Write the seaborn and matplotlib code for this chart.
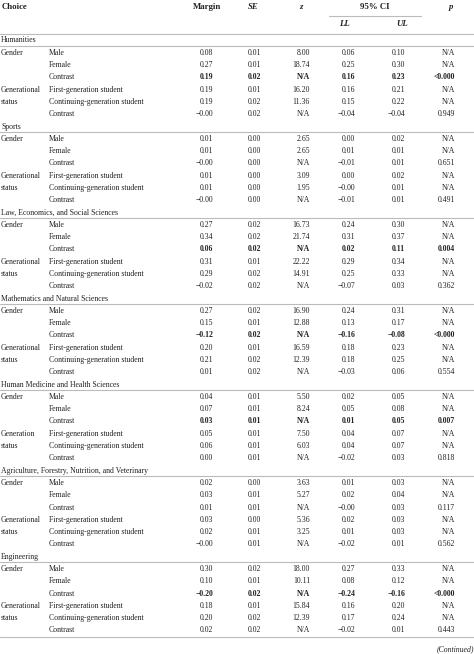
import matplotlib
matplotlib.use("Agg")
import matplotlib.pyplot as plt
import seaborn as sns

sns.set_theme(style="white")
plt.rcParams['font.family'] = ['Liberation Serif', 'DejaVu Serif']

sections = ["Humanities", "Sports", "Law, Economics, and Social Sciences",
            "Mathematics and Natural Sciences", "Human Medicine and Health Sciences",
            "Agriculture, Forestry, Nutrition, and Veterinary", "Engineering"]
subs = ["Male", "Female", "Contrast", "First-generation student",
        "Continuing-generation student", "Contrast"]
margin = [["0.08","0.27","0.19","0.19","0.19","\u22120.00"],
          ["0.01","0.01","\u22120.00","0.01","0.01","\u22120.00"],
          ["0.27","0.34","0.06","0.31","0.29","\u22120.02"],
          ["0.27","0.15","\u22120.12","0.20","0.21","0.01"],
          ["0.04","0.07","0.03","0.05","0.06","0.00"],
          ["0.02","0.03","0.01","0.03","0.02","\u22120.00"],
          ["0.30","0.10","\u22120.20","0.18","0.20","0.02"]]
se = [["0.01","0.01","0.02","0.01","0.02","0.02"],
      ["0.00","0.00","0.00","0.00","0.00","0.00"],
      ["0.02","0.02","0.02","0.01","0.02","0.02"],
      ["0.02","0.01","0.02","0.01","0.02","0.02"],
      ["0.01","0.01","0.01","0.01","0.01","0.01"],
      ["0.00","0.01","0.01","0.00","0.01","0.01"],
      ["0.02","0.01","0.02","0.01","0.02","0.02"]]
zval = [["8.00","18.74","N/A","16.20","11.36","N/A"],
        ["2.65","2.65","N/A","3.09","1.95","N/A"],
        ["16.73","21.74","N/A","22.22","14.91","N/A"],
        ["16.90","12.88","N/A","16.59","12.39","N/A"],
        ["5.50","8.24","N/A","7.50","6.03","N/A"],
        ["3.63","5.27","N/A","5.36","3.25","N/A"],
        ["18.00","10.11","N/A","15.84","12.39","N/A"]]
ll = [["0.06","0.25","0.16","0.16","0.15","\u22120.04"],
      ["0.00","0.01","\u22120.01","0.00","\u22120.00","\u22120.01"],
      ["0.24","0.31","0.02","0.29","0.25","\u22120.07"],
      ["0.24","0.13","\u22120.16","0.18","0.18","\u22120.03"],
      ["0.02","0.05","0.01","0.04","0.04","\u22120.02"],
      ["0.01","0.02","\u22120.00","0.02","0.01","\u22120.02"],
      ["0.27","0.08","\u22120.24","0.16","0.17","\u22120.02"]]
ul = [["0.10","0.30","0.23","0.21","0.22","\u22120.04"],
      ["0.02","0.01","0.01","0.02","0.01","0.01"],
      ["0.30","0.37","0.11","0.34","0.33","0.03"],
      ["0.31","0.17","\u22120.08","0.23","0.25","0.06"],
      ["0.05","0.08","0.05","0.07","0.07","0.03"],
      ["0.03","0.04","0.03","0.03","0.03","0.01"],
      ["0.33","0.12","\u22120.16","0.20","0.24","0.01"]]
pval = [["N/A","N/A","<0.000","N/A","N/A","0.949"],
        ["N/A","N/A","0.651","N/A","N/A","0.491"],
        ["N/A","N/A","0.004","N/A","N/A","0.362"],
        ["N/A","N/A","<0.000","N/A","N/A","0.554"],
        ["N/A","N/A","0.007","N/A","N/A","0.818"],
        ["N/A","N/A","0.117","N/A","N/A","0.562"],
        ["N/A","N/A","<0.000","N/A","N/A","0.443"]]
gen_label = ["Generational", "Generational", "Generational", "Generational",
             "Generation", "Generational", "Generational"]
bold_sections = [0, 2, 3, 4, 6]

fig = plt.figure(figsize=(4.74, 6.54), dpi=100)
ax = fig.add_axes([0, 0, 1, 1])
ax.set_xlim(0, 474)
ax.set_ylim(654, 0)
ax.axis("off")

fs = 5.6
c = "#222222"
lc = "#bbbbbb"
ax.text(2, 7, "Choice", fontsize=6.3, fontweight="bold", va="center", color=c)
ax.text(207, 7, "Margin", fontsize=6.3, fontweight="bold", va="center", ha="center", color=c)
ax.text(253, 7, "SE", fontsize=6.3, fontweight="bold", fontstyle="italic", va="center", ha="center", color=c)
ax.text(301, 7, "z", fontsize=6.3, fontweight="bold", fontstyle="italic", va="center", ha="center", color=c)
ax.text(375, 7, "95% CI", fontsize=6.3, fontweight="bold", va="center", ha="center", color=c)
ax.text(451, 7, "p", fontsize=6.3, fontweight="bold", fontstyle="italic", va="center", ha="center", color=c)
ax.plot([329, 421], [15.5, 15.5], color=lc, lw=0.8)
ax.text(344, 24, "LL", fontsize=6.3, fontweight="bold", fontstyle="italic", va="center", ha="center", color=c)
ax.text(402, 24, "UL", fontsize=6.3, fontweight="bold", fontstyle="italic", va="center", ha="center", color=c)
ax.plot([0, 474], [34, 34], color=lc, lw=0.8)

y0, dy = 40.5, 12.29
cols = [(213, margin), (261, se), (310, zval), (355, ll), (405, ul), (455, pval)]
row = 0
for s, name in enumerate(sections):
    y = y0 + row * dy
    ax.text(1, y, name, fontsize=fs, va="center", color=c)
    ax.plot([0, 474], [y + 5.3, y + 5.3], color=lc, lw=0.8)
    row += 1
    for i in range(6):
        y = y0 + row * dy
        if i == 0:
            ax.text(1, y, "Gender", fontsize=fs, va="center", color=c)
        elif i == 3:
            ax.text(1, y, gen_label[s], fontsize=fs, va="center", color=c)
        elif i == 4:
            ax.text(1, y, "status", fontsize=fs, va="center", color=c)
        ax.text(49, y, subs[i], fontsize=fs, va="center", color=c)
        w = "bold" if (i == 2 and s in bold_sections) else "normal"
        for x, arr in cols:
            ax.text(x, y, arr[s][i], fontsize=fs, va="center", ha="right",
                    fontweight=w, color=c)
        row += 1

ax.plot([0, 474], [637, 637], color=lc, lw=0.8)
ax.text(474, 649, "(Continued)", fontsize=fs, fontstyle="italic", va="center", ha="right", color=c)

fig.savefig("out.png", dpi=100)
